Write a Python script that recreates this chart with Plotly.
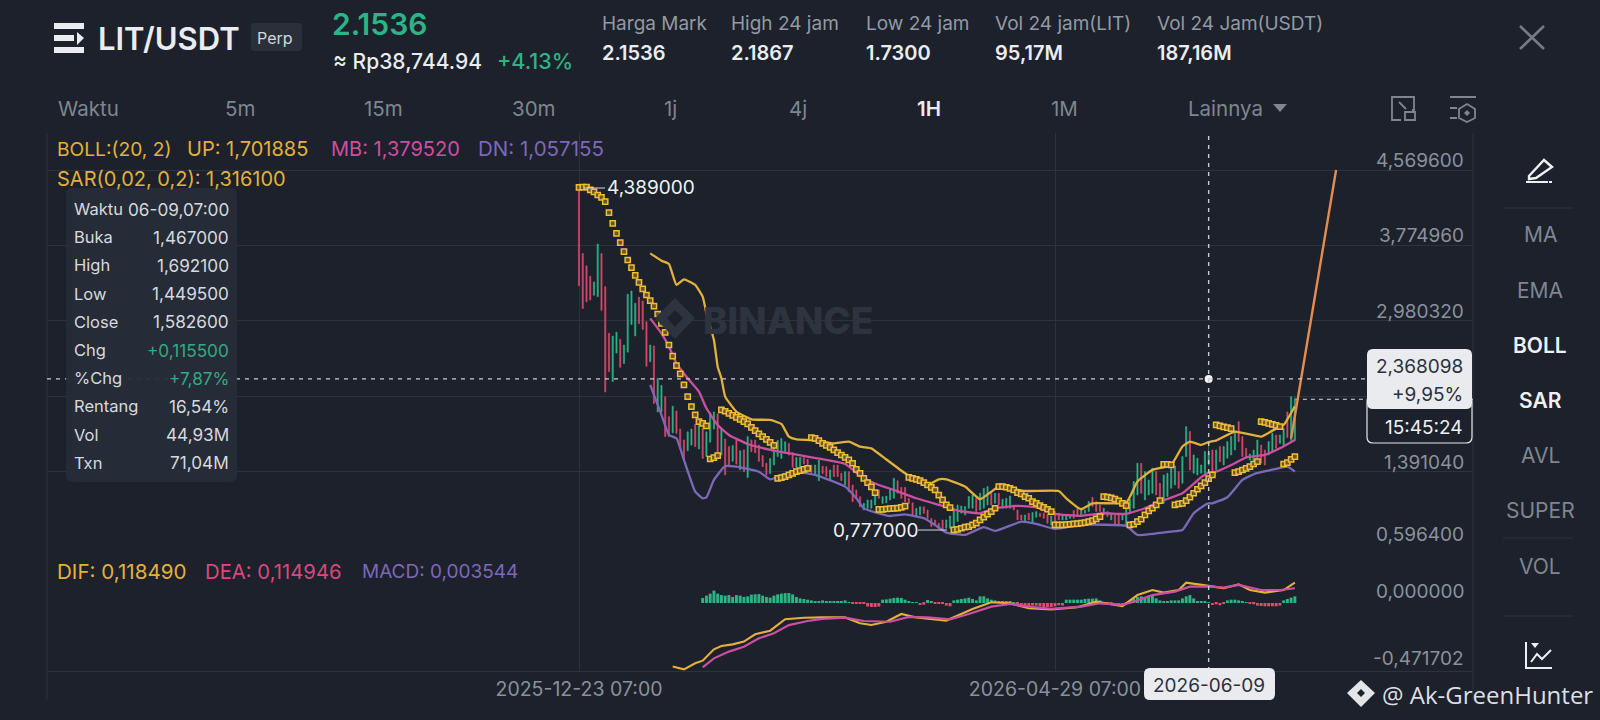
import pandas as pd
import plotly.graph_objects as go

W, H = 1600, 720
BG = "#1c212b"
GRID = "#2d333d"
GREEN = "#2fb386"
RED = "#d8486a"
YELLOW = "#e2b13c"
MAGENTA = "#cc4fa3"
PURPLE = "#7d68b8"
ORANGE = "#e58d50"
FONT = "Inter"

first_date = "2025-12-23 07:00"
candle_count = 192
directions = ("RRRRGGRRRG" "GRGGGGRRRG" "RGGRRGRRRG" "GRGRGGGRGR" "RGRGRGRRRR"
              "RGGGGGRRGG" "RRRGGRRGRR" "RGRRRRGGGG" "RGGGGRRRRR" "GGRRRRRRGG"
              "GGGGGGRGGG" "RGRGGGRRRG" "RGGRRRGRRG" "GGRRGGGRRR" "GRGRRGGGGG"
              "RGGGRRGGGG" "RGGRGGGGGR" "GRGGGGRRRG" "GGRRGGRGGR" "GG")
highs = [4.389,3.69,3.56,3.45,3.39,3.79,3.69,3.34,2.85,2.82,
         2.86,2.785,2.725,3.26,3.295,3.165,3.23,3.19,2.97,2.725,
         2.715,2.375,2.30,2.18,1.97,2.08,2.03,1.84,1.725,1.81,
         1.84,1.89,1.875,1.85,1.81,2.01,2.02,2.00,1.84,1.735,
         1.655,1.665,1.725,1.61,1.62,1.76,1.725,1.725,1.67,1.56,
         1.478,1.53,1.67,1.72,1.74,1.705,1.69,1.59,1.54,1.54,
         1.54,1.52,1.46,1.46,1.51,1.45,1.443,1.408,1.46,1.46,
         1.373,1.39,1.39,1.25,1.197,1.127,1.056,1.092,1.092,1.144,
         1.197,1.127,1.134,1.215,1.32,1.295,1.225,1.225,1.109,1.063,
         1.004,1.021,1.021,.986,.898,.881,.846,.881,.882,.924,
         1.005,1.04,1.029,1.022,1.128,1.145,1.11,1.163,1.215,1.233,
         1.18,1.163,1.163,1.10,1.11,1.135,1.04,.987,.934,.934,
         .952,.959,.97,.952,.952,.945,.924,.97,.952,.934,
         .934,.934,.98,1.015,1.005,.987,1.075,1.121,1.075,1.04,
         1.005,.97,.952,.934,.952,.934,1.022,1.10,1.286,1.479,
         1.479,1.391,1.303,1.426,1.391,1.268,1.356,1.374,1.426,1.451,
         1.391,1.549,1.865,1.813,1.567,1.532,1.461,1.602,1.6921,1.619,
         1.619,1.655,1.655,1.707,1.76,1.813,1.918,1.76,1.637,1.577,
         1.619,1.725,1.672,1.619,1.707,1.795,1.777,1.777,1.848,2.02,
         2.18,2.18]
lows = [3.35,3.11,3.18,3.20,3.25,3.235,3.09,2.23,2.445,2.34,
        2.64,2.49,2.53,2.65,2.94,2.82,2.95,2.89,2.50,2.55,
        2.11,2.02,2.02,1.76,1.76,1.80,1.795,1.63,1.52,1.61,
        1.67,1.655,1.63,1.53,1.55,1.70,1.84,1.58,1.565,1.355,
        1.44,1.50,1.47,1.41,1.39,1.33,1.60,1.59,1.50,1.443,
        1.355,1.37,1.46,1.55,1.53,1.60,1.565,1.435,1.435,1.44,
        1.47,1.44,1.38,1.355,1.295,1.37,1.338,1.302,1.338,1.338,
        1.295,1.25,1.18,1.074,1.109,1.021,.986,1.004,1.004,1.04,
        1.109,1.056,1.063,1.092,1.109,1.162,1.109,1.074,1.056,.934,
        .916,.934,.951,.898,.811,.828,.793,.777,.794,.794,
        .812,.864,.952,.934,1.005,1.005,.97,.987,1.005,1.04,
        1.04,1.057,1.04,1.005,1.005,1.005,.987,.882,.882,.864,
        .882,.847,.91,.917,.899,.847,.829,.864,.882,.882,
        .882,.899,.899,.917,.917,.952,.97,1.022,.97,.97,
        .934,.917,.882,.829,.84,.882,.812,.97,1.005,1.145,
        1.163,1.093,1.145,1.163,1.145,1.11,1.057,1.128,1.215,1.251,
        1.215,1.268,1.549,1.409,1.374,1.356,1.374,1.374,1.4495,1.374,
        1.409,1.496,1.461,1.532,1.567,1.619,1.707,1.549,1.532,1.514,
        1.496,1.532,1.479,1.461,1.567,1.602,1.637,1.69,1.672,1.75,
        1.72,1.72]
known_open_close = {168: (1.467, 1.5826), 191: (1.72, 2.1536)}

sar_values = [4.387,4.389,4.389,4.36,4.338,4.306,4.282,4.236,4.12,4.008,
              3.902,3.804,3.709,3.621,3.54,3.46,3.386,3.316,3.252,3.193,
              3.136,3.052,2.954,2.859,2.725,2.609,2.508,2.42,2.304,2.181,
              2.076,1.988,1.918,1.90,1.872,1.524,1.538,1.559,2.041,2.027,
              2.005,1.984,1.963,1.942,1.918,1.893,1.858,1.823,1.788,1.76,
              1.731,1.70,1.668,1.32,1.327,1.338,1.356,1.373,1.391,1.401,
              1.415,1.426,1.749,1.742,1.717,1.689,1.668,1.647,1.619,1.591,
              1.566,1.542,1.514,1.479,1.415,1.373,1.32,1.274,1.23,1.17,
              .993,.993,.997,1.0,1.004,1.007,1.014,1.028,1.33,1.32,
              1.309,1.295,1.274,1.25,1.225,1.197,1.144,1.092,1.04,1.012,
              .776,.783,.794,.805,.812,.829,.847,.882,.91,.942,
              .97,1.005,1.233,1.233,1.226,1.215,1.198,1.17,1.156,1.128,
              1.11,1.075,1.057,1.033,1.015,.994,.97,.829,.829,.829,
              .833,.836,.84,.843,.847,.854,.864,.875,.892,.917,
              1.128,1.121,1.114,1.10,1.082,1.057,1.033,.829,.836,.864,
              .889,.934,.977,1.005,1.04,1.085,1.468,1.468,1.461,1.04,
              1.05,1.057,1.085,1.121,1.163,1.205,1.24,1.275,1.3161,1.356,
              1.883,1.872,1.862,1.855,1.844,1.38,1.39,1.408,1.426,1.443,
              1.471,1.496,1.917,1.91,1.90,1.889,1.879,1.865,1.471,1.485,
              1.52,1.549]

up_index = [19,22,24,26,28,31,33,34,36,37,38,39,42,46,51,54,56,58,62,65,68,72,75,78,81,87,92,94,96,98,103,107,110,112,119,128,130,134,137,146,149,153,158,161,163,166,168,170,175,182,185,188,191]
up_values = [3.691,3.614,3.579,3.358,3.417,3.358,3.235,3.059,2.778,2.497,2.374,2.181,2.023,1.942,1.935,1.893,1.76,1.731,1.724,1.707,1.689,1.707,1.654,1.636,1.549,1.374,1.267,1.268,1.31,1.31,1.233,1.10,1.18,1.233,1.187,1.187,1.11,.994,1.057,1.064,1.286,1.409,1.461,1.655,1.707,1.672,1.7019,1.718,1.813,1.76,1.823,1.883,2.08]
mid_index = [19,22,24,26,29,32,34,37,40,45,52,57,62,67,71,76,80,84,90,97,101,107,111,117,122,127,134,140,146,151,155,161,166,168,170,175,178,183,187,191]
mid_values = [3.006,2.848,2.708,2.532,2.374,2.234,2.058,1.882,1.777,1.682,1.612,1.577,1.542,1.507,1.472,1.321,1.25,1.198,1.11,1.029,.98,.952,1.005,1.029,1.015,.945,.924,.952,.945,1.005,1.075,1.163,1.331,1.3795,1.391,1.479,1.542,1.567,1.637,1.725]
down_index = [19,22,24,26,28,31,33,34,36,39,42,48,51,57,63,71,74,76,80,83,87,92,95,98,103,108,111,118,122,127,134,146,149,158,161,164,167,168,169,173,177,180,184,189,191]
down_values = [2.304,1.988,1.777,1.742,1.514,1.18,1.11,1.12,1.303,1.45,1.443,1.39,1.31,1.39,1.356,1.233,1.109,1.004,.951,.923,.94,.90,.828,.748,.724,.805,.766,.864,.84,.787,.829,.819,.724,.759,.776,.952,1.04,1.0572,1.057,1.121,1.303,1.363,1.402,1.444,1.391]

dif_index = [25,28,31,33,36,38,41,44,47,51,55,60,65,71,75,78,82,86,90,98,105,110,115,120,126,133,138,145,149,153,156,160,162,165,168,172,176,179,183,188,191]
dif_values = [-.441,-.46,-.418,-.40,-.321,-.298,-.287,-.268,-.217,-.192,-.113,-.102,-.10,-.10,-.141,-.153,-.13,-.076,-.10,-.122,-.042,.005,-.002,-.037,-.044,-.03,.009,-.021,.055,.09,.072,.09,.141,.132,.1185,.102,.129,.09,.072,.09,.141]
dea_index = [33,36,40,44,48,52,56,61,65,71,76,83,88,93,99,104,110,115,120,126,134,139,145,148,153,159,163,168,172,176,182,187,191]
dea_values = [-.446,-.384,-.337,-.303,-.245,-.21,-.153,-.125,-.11,-.102,-.125,-.13,-.097,-.10,-.113,-.076,-.025,-.007,-.025,-.04,-.025,-.002,-.014,.009,.055,.079,.113,.1149,.106,.125,.09,.09,.102]
macd_start = 33
macd_values = [.035,.051,.065,.086,.065,.055,.051,.055,.042,.055,
               .051,.042,.046,.058,.06,.062,.051,.042,.037,.051,
               .06,.065,.069,.069,.06,.042,.032,.028,.023,.018,
               .009,.009,.018,.014,.009,.009,.009,.009,.018,.005,
               -.005,-.005,-.007,-.007,-.025,-.028,-.028,-.025,.023,.025,
               .03,.035,.037,.035,.023,.009,.005,.002,-.014,-.012,
               .021,.009,-.007,-.007,-.007,-.018,-.023,.018,.023,.028,
               .032,.037,.028,.018,.046,.046,.032,.023,.018,.014,
               .012,.009,.007,.005,-.007,-.014,-.018,-.023,-.018,-.018,
               -.023,-.028,-.028,-.028,-.023,-.016,-.018,.023,.023,.023,
               .023,.023,.028,.03,.03,.032,.018,.005,-.007,-.012,
               -.014,-.014,-.018,-.003,.018,.032,.042,.046,.042,.051,
               .055,.032,.018,.012,.014,.018,.018,.018,.032,.046,
               .055,.032,.012,.009,.009,.0035,-.014,-.009,-.016,-.007,
               .018,.023,.023,.018,.007,.005,-.007,-.009,-.018,-.021,
               -.023,-.023,-.023,-.023,-.018,.018,.028,.037,.046]

projection_dates = ["2026-07-01 07:00", "2026-07-13 07:00"]
projection_values = [1.74, 4.57]

price_ticks = [4.5696, 3.77496, 2.98032, 2.18568, 1.39104, 0.5964]
price_tick_text = ["4,569600", "3,774960", "2,980320", "2,185680", "1,391040", "0,596400"]
macd_ticks = [0.0, -0.471702]
macd_tick_text = ["0,000000", "-0,471702"]
x_tick_dates = ["2025-12-23 07:00", "2026-04-29 07:00"]
x_tick_text = ["2025-12-23 07:00", "2026-04-29 07:00"]
crosshair_date = "2026-06-09 07:00"
crosshair_price = 2.368098
last_price = 2.1536

tooltip_rows = [("Waktu", "06-09,07:00"), ("Buka", "1,467000"), ("High", "1,692100"), ("Low", "1,449500"),
                ("Close", "1,582600"), ("Chg", "+0,115500"), ("%Chg", "+7,87%"), ("Rentang", "16,54%"),
                ("Vol", "44,93M"), ("Txn", "71,04M")]
stats_heads = ["Harga Mark", "High 24 jam", "Low 24 jam", "Vol 24 jam(LIT)", "Vol 24 Jam(USDT)"]
stats_values = ["2.1536", "2.1867", "1.7300", "95,17M", "187,16M"]
intervals = ["Waktu", "5m", "15m", "30m", "1j", "4j", "1H", "1M", "Lainnya"]
side_menu = ["MA", "EMA", "BOLL", "SAR", "AVL", "SUPER", "VOL"]

dates = pd.date_range(first_date, periods=candle_count, freq="D")
opens = [l if d == "G" else h for d, h, l in zip(directions, highs, lows)]
closes = [h if d == "G" else l for d, h, l in zip(directions, highs, lows)]
for i, (o, c) in known_open_close.items():
    opens[i], closes[i] = o, c


def px(x):
    return x / W


def py(y):
    return 1 - y / H


shapes = []
annotations = []


def rect(x0, y0, x1, y1, fill, line=None, lw=0):
    shapes.append(dict(type="rect", xref="paper", yref="paper", x0=px(x0), x1=px(x1), y0=py(y0), y1=py(y1),
                       fillcolor=fill, line=dict(color=line or fill, width=lw), layer="above"))


def segment(x0, y0, x1, y1, color, lw=1, dash=None, layer="above"):
    shapes.append(dict(type="line", xref="paper", yref="paper", x0=px(x0), x1=px(x1), y0=py(y0), y1=py(y1),
                       line=dict(color=color, width=lw, dash=dash or "solid"), layer=layer))


def poly(points, fill=None, line=None, lw=0, close=True):
    d = "M " + " L ".join(f"{px(a):.5f},{py(b):.5f}" for a, b in points) + (" Z" if close else "")
    shapes.append(dict(type="path", xref="paper", yref="paper", path=d, fillcolor=fill or "rgba(0,0,0,0)",
                       line=dict(color=line or "rgba(0,0,0,0)", width=lw), layer="above"))


def rounded(x0, y0, x1, y1, r, fill, line=None, lw=0):
    a, b, c, e = px(x0), px(x1), py(y0), py(y1)
    rx, ry = r / W, r / H
    d = (f"M {a+rx},{c} L {b-rx},{c} Q {b},{c} {b},{c-ry} L {b},{e+ry} Q {b},{e} {b-rx},{e} "
         f"L {a+rx},{e} Q {a},{e} {a},{e+ry} L {a},{c-ry} Q {a},{c} {a+rx},{c} Z")
    shapes.append(dict(type="path", xref="paper", yref="paper", path=d, fillcolor=fill,
                       line=dict(color=line or fill, width=lw), layer="above"))


def text(x, y, s, size, color, anchor="left", weight=400, family=FONT):
    nudge = {"left": -2.5, "right": 2, "center": 0}[anchor]
    annotations.append(dict(xref="paper", yref="paper", x=px(x + nudge), y=py(y), text=s, showarrow=False,
                            xanchor=anchor, yanchor="middle",
                            font=dict(size=size, color=color, family=family, weight=weight)))


fig = go.Figure()
fig.add_trace(go.Candlestick(x=dates, open=opens, high=highs, low=lows, close=closes, yaxis="y", xaxis="x",
                             increasing=dict(line=dict(color=GREEN, width=0.6), fillcolor=GREEN),
                             decreasing=dict(line=dict(color=RED, width=0.6), fillcolor=RED),
                             whiskerwidth=0, hoverinfo="skip", showlegend=False))
for idx, vals, col in [(down_index, down_values, PURPLE), (mid_index, mid_values, MAGENTA), (up_index, up_values, YELLOW)]:
    fig.add_trace(go.Scatter(x=dates[idx], y=vals, mode="lines", line=dict(color=col, width=2.3, shape="spline", smoothing=0.4),
                             yaxis="y", hoverinfo="skip", showlegend=False))
fig.add_trace(go.Scatter(x=dates, y=sar_values, mode="markers", yaxis="y", hoverinfo="skip", showlegend=False,
                         marker=dict(symbol="square", size=5.2, color="#6a5520", line=dict(color="#efbc3c", width=1.5))))
fig.add_trace(go.Scatter(x=projection_dates, y=projection_values, mode="lines", yaxis="y", hoverinfo="skip", showlegend=False,
                         line=dict(color=ORANGE, width=2.4)))
fig.add_trace(go.Scatter(x=[crosshair_date], y=[crosshair_price], mode="markers", yaxis="y", hoverinfo="skip", showlegend=False,
                         marker=dict(color="#f2f3f5", size=8)))
macd_dates = dates[macd_start:]
fig.add_trace(go.Bar(x=macd_dates, y=macd_values, yaxis="y2", hoverinfo="skip", showlegend=False,
                     marker=dict(color=[GREEN if v >= 0 else "#e34c68" for v in macd_values], line=dict(width=0)),
                     width=0.78 * 86400000))
fig.add_trace(go.Scatter(x=dates[dif_index], y=dif_values, mode="lines", line=dict(color=YELLOW, width=2.1), yaxis="y2",
                         hoverinfo="skip", showlegend=False))
fig.add_trace(go.Scatter(x=dates[dea_index], y=dea_values, mode="lines", line=dict(color=MAGENTA, width=2.2), yaxis="y2",
                         hoverinfo="skip", showlegend=False))

# axis scale: one candle is 3.748 px, first candle sits at x = 579
t0 = pd.Timestamp(first_date)
x_left = t0 + pd.Timedelta(days=(47 - 579) / 3.748)
x_right = t0 + pd.Timedelta(days=(1473 - 579) / 3.748)

# frame
segment(47, 133, 47, 700, GRID, 1, layer="below")
segment(1473, 133, 1473, 700, GRID, 1, layer="below")

# crosshair and last-price guide (data-anchored)
shapes.append(dict(type="line", xref="x", yref="paper", x0=crosshair_date, x1=crosshair_date, y0=py(671), y1=py(133),
                   line=dict(color="#c9cdd3", width=1.4, dash="4px,5px"), layer="above"))
shapes.append(dict(type="line", xref="paper", yref="y", x0=px(47), x1=px(1368), y0=crosshair_price, y1=crosshair_price,
                   line=dict(color="#c9cdd3", width=1.4, dash="4px,5px"), layer="above"))
shapes.append(dict(type="line", xref="x", yref="y", x0=dates[-1], x1=x_right, y0=last_price, y1=last_price,
                   line=dict(color="#d6d9de", width=1.2, dash="4px,4px"), layer="below"))

# BINANCE watermark
poly([(675, 298), (695, 318), (675, 339), (655, 318)], fill="#2e343f")
poly([(675, 310), (683, 318), (675, 327), (667, 318)], fill=BG)
text(703, 320, "BINANCE", 37, "#2e343f", weight=800)

# axis labels in the panes
for v, s in zip(price_ticks, price_tick_text):
    if s != "2,185680":
        annotations.append(dict(xref="paper", yref="y", x=px(1466), y=v, text=s, showarrow=False, xanchor="right",
                                yanchor="middle", yshift=12.5 if s == "0,596400" else 9.5,
                                font=dict(size=19, color="#8b919b", family=FONT)))
for v, s, shift in zip(macd_ticks, macd_tick_text, (11, 12.5)):
    annotations.append(dict(xref="paper", yref="y2", x=px(1466), y=v, text=s, showarrow=False, xanchor="right",
                            yanchor="middle", yshift=shift, font=dict(size=19, color="#8b919b", family=FONT)))

# header
rect(54, 23, 84, 29, "#eaecef")
rect(54, 35, 74, 41, "#eaecef")
poly([(77, 32), (84, 38), (77, 45)], fill="#eaecef")
rect(54, 47, 84, 53, "#eaecef")
text(98, 38, "LIT/USDT", 31, "#eaecef", weight=600)
rounded(251, 23, 302, 51, 3, "#2a303a")
text(257, 38, "Perp", 16, "#d4d7dc")
text(332, 24, "2.1536", 30, "#2fb386", weight=600)
text(333, 61, "≈ Rp38,744.94", 21, "#eaecef", weight=500)
text(497, 61, "+4.13%", 21.5, "#2fb386", weight=500)
for x, head, val in zip((602, 731, 866, 995, 1157), stats_heads, stats_values):
    text(x, 23, head, 19, "#939aa4")
    text(x, 53, val, 20, "#eaecef", weight=600)
segment(1520, 26, 1544, 49, "#767c86", 2.6)
segment(1544, 26, 1520, 49, "#767c86", 2.6)

# interval row
for x, s in zip((58, 225, 364, 512, 664, 789, 917, 1051, 1188), intervals):
    text(x, 108.5, s, 20.5, "#eaecef" if s == "1H" else "#7f8691", weight=600 if s == "1H" else 400)
poly([(1273, 104), (1287, 104), (1280, 112)], fill="#7f8691")
poly([(1412, 110), (1414, 110), (1414, 97), (1392, 97), (1392, 120), (1401, 120)], line="#7f8691", lw=1.8, close=False)
rect(1405, 112, 1415, 120, BG, "#7f8691", 1.8)
segment(1399, 102, 1406, 109, "#7f8691", 1.8)
segment(1450, 97, 1476, 97, "#7f8691", 2)
segment(1450, 108, 1457, 108, "#7f8691", 2)
segment(1450, 118, 1457, 118, "#7f8691", 2)
poly([(1467, 104), (1475, 109), (1475, 118), (1467, 122), (1459, 118), (1459, 109)], line="#7f8691", lw=1.8)
poly([(1467, 110), (1470, 113), (1467, 116), (1464, 113)], fill="#7f8691")

# legends
text(57, 149, "BOLL:(20, 2)", 19.2, YELLOW)
text(187, 149, "UP: 1,701885", 20, YELLOW)
text(331, 149, "MB: 1,379520", 20, MAGENTA)
text(478, 149, "DN: 1,057155", 20.5, PURPLE)
text(57, 179, "SAR(0,02, 0,2): 1,316100", 20, YELLOW)
text(57, 571, "DIF: 0,118490", 20.6, YELLOW)
text(205, 571, "DEA: 0,114946", 20.3, "#d9487f")
text(362, 571, "MACD: 0,003544", 19, PURPLE)

# tooltip
rounded(66, 188, 237, 482, 7, "rgba(39,45,56,0.95)")
for k, (lab, val) in enumerate(tooltip_rows):
    y = 209 + k * 28.2
    text(74, y, lab, 16.5, "#d6d9de")
    text(229, y, val, 17.2, "#34a982" if lab in ("Chg", "%Chg") else "#d6d9de", anchor="right")

# max / min labels
segment(584, 188, 605, 188, "#d6d9de", 1)
text(607, 188, "4,389000", 19, "#f0f1f3")
segment(918, 530, 947, 530, "#d6d9de", 1)
text(918, 530, "0,777000", 19, "#f0f1f3", anchor="right")

# price box
rounded(1367, 395, 1472, 443, 6, BG, "#e6e8eb", 1.2)
rounded(1367, 349, 1472, 409, 6, "#e9ebee")
text(1463, 366, "2,368098", 19, "#2b313b", anchor="right")
text(1463, 394, "+9,95%", 19, "#2b313b", anchor="right")
text(1463, 427, "15:45:24", 19, "#eef0f2", anchor="right")

# date tag
rounded(1144, 668, 1275, 700, 6, "#e9ebee")
text(1209, 685, "2026-06-09", 19, "#2b313b", anchor="center")

# side menu
poly([(1529, 176), (1544, 160), (1552, 167), (1536, 178), (1529, 179)], line="#eef0f2", lw=2.4)
segment(1526, 182, 1548, 182, "#eef0f2", 2)
segment(1549, 182, 1552, 182, "#eef0f2", 2)
for y, s in zip((235, 290, 345, 400, 455, 510, 566), side_menu):
    on = s in ("BOLL", "SAR")
    text(1540, y, s, 21, "#eef0f2" if on else "#7f8691", anchor="center", weight=600 if on else 400)
for y in (208, 538, 616):
    segment(1503, y, 1573, y, GRID, 1)
poly([(1526, 642), (1526, 668), (1552, 668)], line="#eef0f2", lw=2, close=False)
poly([(1531, 662), (1537, 654), (1542, 659), (1551, 650)], line="#eef0f2", lw=2, close=False)
poly([(1531, 643), (1539, 643), (1535, 648)], fill="#eef0f2")

# attribution
poly([(1361, 680), (1375, 693), (1361, 707), (1347, 693)], fill="#e3e5e8")
poly([(1361, 689), (1365, 693), (1361, 697), (1357, 693)], fill=BG)
text(1382, 694, "@ Ak-GreenHunter", 24, "#dcdfe3", family="Open Sans")

fig.update_layout(
    width=W, height=H, margin=dict(l=0, r=0, t=0, b=0), paper_bgcolor=BG, plot_bgcolor=BG,
    showlegend=False, dragmode=False, barmode="overlay", hovermode=False, boxgap=0.55,
    xaxis=dict(domain=[px(47), px(1473)], range=[x_left, x_right], type="date", anchor="y2",
               tickmode="array", tickvals=x_tick_dates, ticktext=x_tick_text, showgrid=True, gridcolor=GRID, gridwidth=1,
               ticks="outside", ticklen=1, tickcolor=BG, tickfont=dict(size=19.5, color="#8b919b", family=FONT),
               zeroline=False, showline=True, linecolor=GRID, rangeslider=dict(visible=False)),
    yaxis=dict(domain=[py(547), py(133)], range=[0.5964, 4.9595], tickmode="array", tickvals=price_ticks,
               showticklabels=False, showgrid=True, gridcolor=GRID, gridwidth=1, zeroline=False),
    yaxis2=dict(domain=[py(671), py(547)], range=[-0.471702, 0.3883], tickmode="array", tickvals=[-0.471702],
                showticklabels=False, showgrid=False, zeroline=False),
    shapes=shapes, annotations=annotations,
)
fig.write_html("out.html", config=dict(displayModeBar=False),
               post_script="document.body.style.margin='0';document.body.style.background='" + BG + "';")
